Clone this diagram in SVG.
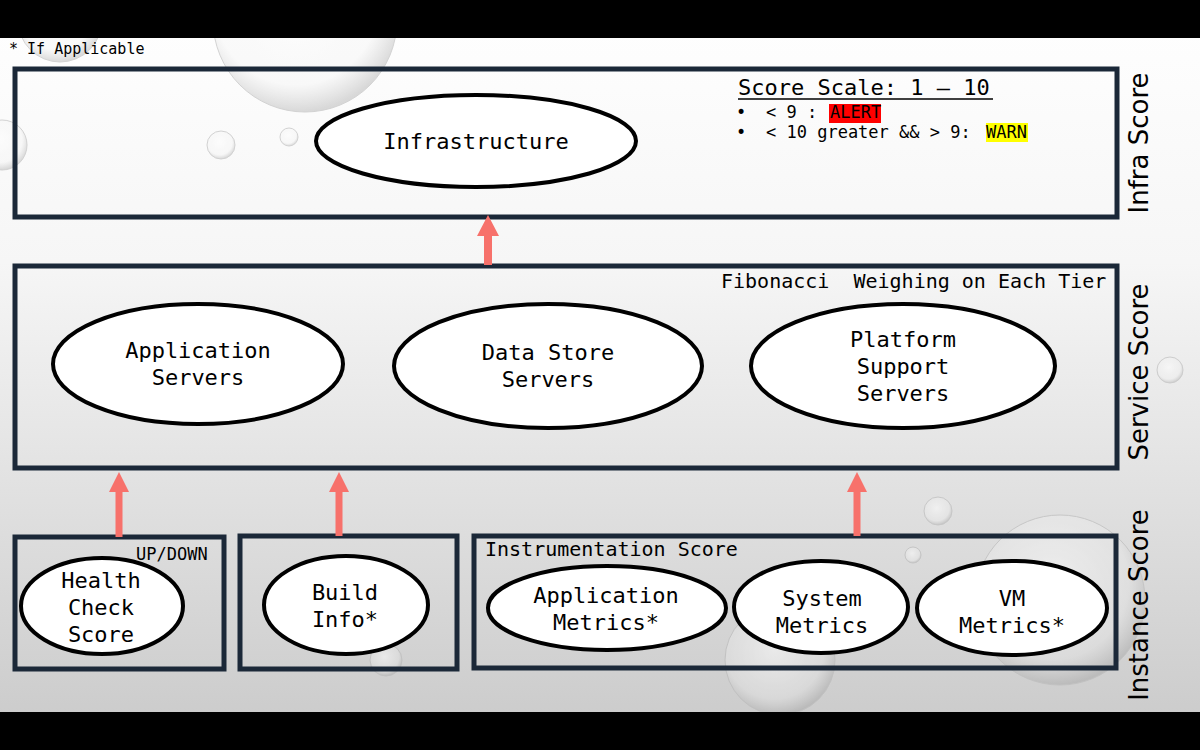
<svg xmlns="http://www.w3.org/2000/svg" width="1200" height="750" viewBox="0 0 1200 750">
<defs>
<linearGradient id="bg" x1="0" y1="0" x2="0" y2="1">
<stop offset="0" stop-color="#ffffff"/>
<stop offset="0.35" stop-color="#f6f6f6"/>
<stop offset="1" stop-color="#c9c9c9"/>
</linearGradient>
<radialGradient id="drop" cx="0.45" cy="0.4" r="0.6">
<stop offset="0" stop-color="#ffffff" stop-opacity="0.9"/>
<stop offset="0.75" stop-color="#f2f2f2" stop-opacity="0.5"/>
<stop offset="1" stop-color="#9a9a9a" stop-opacity="0.6"/>
</radialGradient>
<style>
.box{fill:none;stroke:#1b2838;stroke-width:5}
.el{fill:#fff;stroke:#000;stroke-width:4}
.t{font-family:"DejaVu Sans Mono","Liberation Mono",monospace;fill:#000;white-space:pre}
.c{text-anchor:middle;font-size:22px}
.side{font-family:"DejaVu Sans","Liberation Sans",sans-serif;font-size:26px;fill:#000;text-anchor:middle}
.arr{fill:#f7716b}
.drop{fill:url(#drop);stroke:#b8b8b8;stroke-width:1}
</style>
</defs>
<rect x="0" y="0" width="1200" height="750" fill="url(#bg)"/>
<g id="droplets" opacity="0.6">
<circle class="drop" cx="305" cy="20" r="92"/>
<circle class="drop" cx="60" cy="20" r="42"/>
<circle class="drop" cx="221" cy="145" r="14"/>
<circle class="drop" cx="289" cy="137" r="9"/>
<circle class="drop" cx="2" cy="145" r="25"/>
<circle class="drop" cx="938" cy="511" r="14"/>
<circle class="drop" cx="913" cy="555" r="8"/>
<circle class="drop" cx="1060" cy="600" r="85"/>
<circle class="drop" cx="780" cy="660" r="55"/>
<circle class="drop" cx="386" cy="660" r="16"/>
<circle class="drop" cx="1170" cy="370" r="13"/>
</g>
<rect x="0" y="0" width="1200" height="38" fill="#000"/>
<rect x="0" y="712" width="1200" height="38" fill="#000"/>
<text class="t" x="9" y="54" font-size="15">* If Applicable</text>
<g id="infra-tier">
<rect class="box" x="15" y="69" width="1102" height="148"/>
<text class="side" transform="translate(1148,143) rotate(-90)">Infra Score</text>
</g>
<g id="infrastructure">
<ellipse class="el" cx="476" cy="141" rx="160" ry="46"/>
<text class="t c" x="476" y="149">Infrastructure</text>
</g>
<g id="score-scale">
<text class="t" x="738" y="95" font-size="22">Score Scale: 1 – 10</text>
<line x1="738" y1="99" x2="993" y2="99" stroke="#000" stroke-width="1.5"/>
<rect x="829" y="104" width="52" height="19" fill="#ff0000"/>
<rect x="986" y="123" width="42" height="19" fill="#ffff00"/>
<text class="t" x="736" y="118" font-size="17">•</text>
<text class="t" x="766" y="118" font-size="17">&lt; 9 :</text>
<text class="t" x="830" y="118" font-size="17">ALERT</text>
<text class="t" x="736" y="138" font-size="17">•</text>
<text class="t" x="766" y="138" font-size="17">&lt; 10 greater &amp;&amp; &gt; 9:</text>
<text class="t" x="986" y="138" font-size="17">WARN</text>
</g>
<g id="service-tier">
<rect class="box" x="15" y="266" width="1102" height="202"/>
<text class="t" x="721" y="288" font-size="20" xml:space="preserve">Fibonacci  Weighing on Each Tier</text>
<text class="side" transform="translate(1148,372) rotate(-90)">Service Score</text>
</g>
<g id="application-servers">
<ellipse class="el" cx="198" cy="364" rx="145" ry="60"/>
<text class="t c" x="198" y="358">Application</text>
<text class="t c" x="198" y="385">Servers</text>
</g>
<g id="data-store-servers">
<ellipse class="el" cx="548" cy="366" rx="154" ry="62"/>
<text class="t c" x="548" y="360">Data Store</text>
<text class="t c" x="548" y="387">Servers</text>
</g>
<g id="platform-support-servers">
<ellipse class="el" cx="903" cy="366" rx="152" ry="62"/>
<text class="t c" x="903" y="347">Platform</text>
<text class="t c" x="903" y="374">Support</text>
<text class="t c" x="903" y="401">Servers</text>
</g>
<g id="instance-tier">
<text class="side" transform="translate(1148,605) rotate(-90)">Instance Score</text>
</g>
<g id="health-check">
<rect class="box" x="15" y="537" width="209" height="132"/>
<text class="t" x="136" y="560" font-size="17">UP/DOWN</text>
<ellipse class="el" cx="102" cy="606" rx="81" ry="48"/>
<text class="t c" x="101" y="588">Health</text>
<text class="t c" x="101" y="615">Check</text>
<text class="t c" x="101" y="642">Score</text>
</g>
<g id="build-info">
<rect class="box" x="240" y="536" width="217" height="133"/>
<ellipse class="el" cx="346" cy="605" rx="82" ry="49"/>
<text class="t c" x="345" y="600">Build</text>
<text class="t c" x="345" y="627">Info*</text>
</g>
<g id="instrumentation">
<rect class="box" x="474" y="536" width="642" height="132"/>
<text class="t" x="485" y="556" font-size="20">Instrumentation Score</text>
</g>
<g id="application-metrics">
<ellipse class="el" cx="607" cy="608" rx="119" ry="42"/>
<text class="t c" x="606" y="603">Application</text>
<text class="t c" x="606" y="630">Metrics*</text>
</g>
<g id="system-metrics">
<ellipse class="el" cx="821" cy="607" rx="87" ry="46"/>
<text class="t c" x="822" y="606">System</text>
<text class="t c" x="822" y="633">Metrics</text>
</g>
<g id="vm-metrics">
<ellipse class="el" cx="1012" cy="608" rx="95" ry="47"/>
<text class="t c" x="1012" y="606">VM</text>
<text class="t c" x="1012" y="633">Metrics*</text>
</g>
<g id="connectors">
<path class="arr" d="M484,265 L484,236 L477,236 L488,215 L499,236 L492,236 L492,265 Z"/>
<path class="arr" d="M115.5,537 L115.5,492 L109,492 L119,472 L129,492 L122.5,492 L122.5,537 Z"/>
<path class="arr" d="M335.5,536 L335.5,492 L329,492 L339,472 L349,492 L342.5,492 L342.5,536 Z"/>
<path class="arr" d="M853.5,536 L853.5,492 L847,492 L857,472 L867,492 L860.5,492 L860.5,536 Z"/>
</g>
</svg>
